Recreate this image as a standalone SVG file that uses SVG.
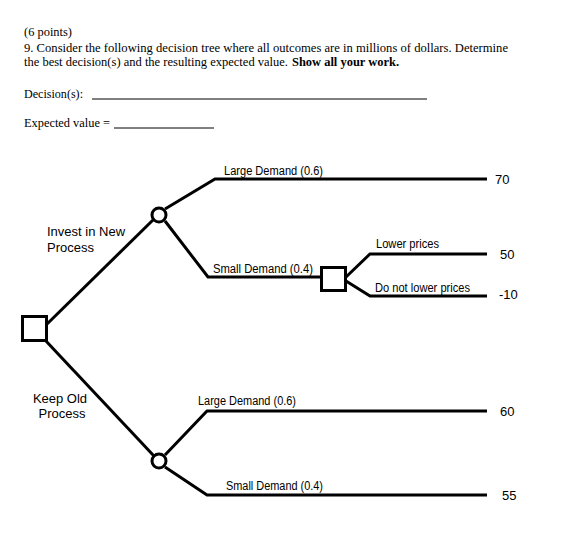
<svg xmlns="http://www.w3.org/2000/svg" width="562" height="539" viewBox="0 0 562 539">
<style>
.hd{font-family:"Liberation Serif","Times New Roman",serif;font-size:13px;fill:#000}
.lb{font-family:"Liberation Sans",Arial,sans-serif;font-size:12px;fill:#000}
.lg{font-family:"Liberation Sans",Arial,sans-serif;font-size:13px;fill:#000}
.val{font-family:"Liberation Sans",Arial,sans-serif;font-size:13px;fill:#000}
.ln{stroke:#000;stroke-width:3;fill:none;stroke-linejoin:miter}
.nd{stroke:#000;stroke-width:3;fill:#fff}
.ul{stroke:#000;stroke-width:1}
</style>
<rect width="562" height="539" fill="#fff"/>
<g id="header">
<text class="hd" x="24" y="36" textLength="48" lengthAdjust="spacingAndGlyphs">(6 points)</text>
<text class="hd" x="24" y="52" textLength="484" lengthAdjust="spacingAndGlyphs">9.  Consider the following decision tree where all outcomes are in millions of dollars. Determine</text>
<text class="hd" x="24" y="66" textLength="264" lengthAdjust="spacingAndGlyphs">the best decision(s) and the resulting expected value.</text>
<text class="hd" x="292" y="66" font-weight="bold" textLength="107" lengthAdjust="spacingAndGlyphs">Show all your work.</text>
<text class="hd" x="24" y="98" textLength="59" lengthAdjust="spacingAndGlyphs">Decision(s):</text>
<line class="ul" x1="92" y1="99" x2="427" y2="99"/>
<text class="hd" x="24" y="127" textLength="86" lengthAdjust="spacingAndGlyphs">Expected value =</text>
<line class="ul" x1="114" y1="128" x2="214" y2="128"/>
</g>
<g id="connectors">
<polyline class="ln" points="45,326 154,219"/>
<polyline class="ln" points="45,340 154,456"/>
<polyline class="ln" points="165,209 215,179 487,179"/>
<polyline class="ln" points="165,221 208,277 321,277"/>
<polyline class="ln" points="346,277 370,254 487,254"/>
<polyline class="ln" points="346,281 370,296 487,296"/>
<polyline class="ln" points="165,455 207,411 487,411"/>
<polyline class="ln" points="165,467 207,495 487,495"/>
</g>
<g id="decision-root"><rect class="nd" x="22.5" y="316.5" width="24" height="24"/></g>
<g id="chance-invest"><circle class="nd" cx="159" cy="215" r="7"/></g>
<g id="chance-keep"><circle class="nd" cx="159" cy="461" r="7"/></g>
<g id="decision-price"><rect class="nd" x="321.5" y="267.5" width="24" height="23"/></g>
<g id="labels">
<text class="lg" x="47" y="236">Invest in New</text>
<text class="lg" x="47" y="252">Process</text>
<text class="lg" x="60" y="403" text-anchor="middle">Keep Old</text>
<text class="lg" x="62" y="418" text-anchor="middle">Process</text>
<text class="lb" x="224" y="175" textLength="99" lengthAdjust="spacingAndGlyphs">Large Demand (0.6)</text>
<text class="lb" x="213" y="273" textLength="100" lengthAdjust="spacingAndGlyphs">Small Demand (0.4)</text>
<text class="lb" x="376" y="248" textLength="63" lengthAdjust="spacingAndGlyphs">Lower prices</text>
<text class="lb" x="375" y="292" textLength="95" lengthAdjust="spacingAndGlyphs">Do not lower prices</text>
<text class="lb" x="198" y="405" textLength="98" lengthAdjust="spacingAndGlyphs">Large Demand (0.6)</text>
<text class="lb" x="226" y="490" textLength="97" lengthAdjust="spacingAndGlyphs">Small Demand (0.4)</text>
</g>
<g id="values">
<text class="val" x="495" y="184">70</text>
<text class="val" x="500" y="259">50</text>
<text class="val" x="499" y="299">-10</text>
<text class="val" x="500" y="416">60</text>
<text class="val" x="502" y="500">55</text>
</g>
</svg>
